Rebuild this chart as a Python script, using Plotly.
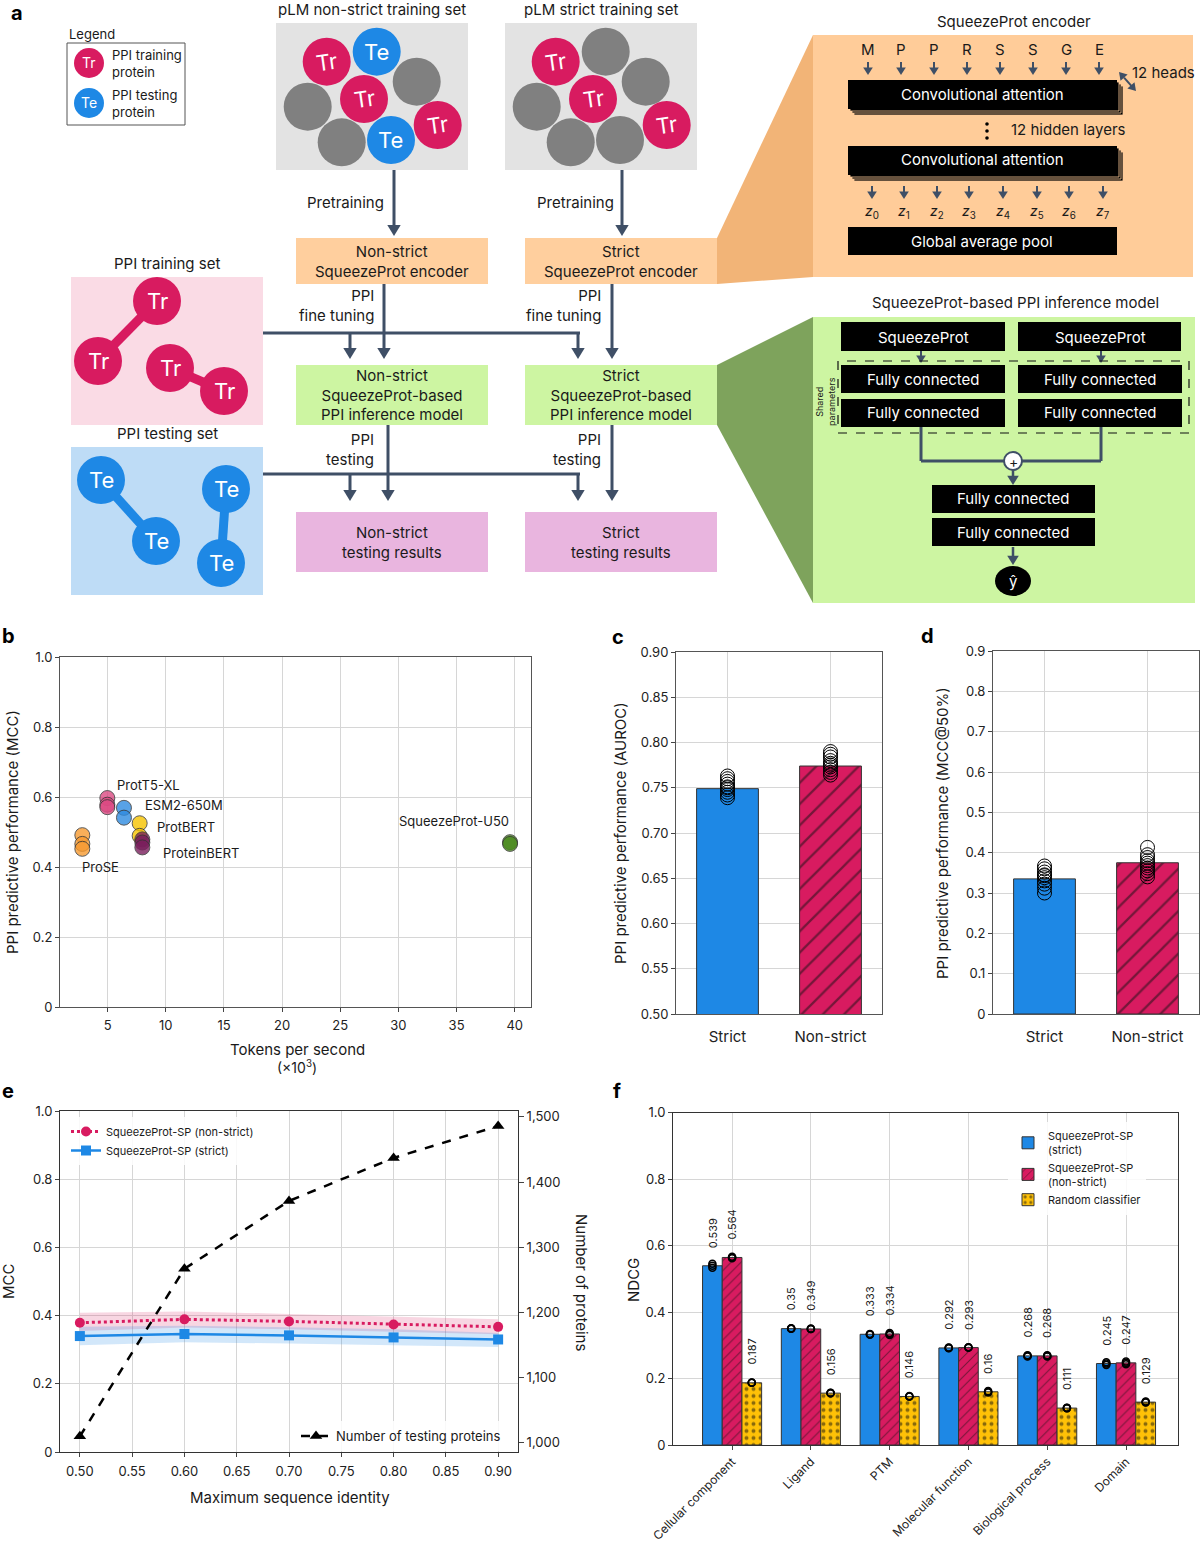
import math
import plotly.graph_objects as go

W, H = 1200, 1547
FONT = "Inter"
BLUE = "#1e88e5"
PINK = "#d81b60"
YELLOW = "#ffc107"
SLATE = "#3f4f66"
GRID = "#d6d6d6"

# ---------------- data ----------------
# panel b
b_models = ["ProtT5-XL", "ESM2-650M", "ProtBERT", "ProteinBERT", "ProSE", "SqueezeProt-U50"]
b_speed = [4.97, 6.4, 7.75, 7.98, 2.82, 39.6]          # tokens per second (x10^3)
b_mcc = [[0.597, 0.578, 0.571], [0.569, 0.541], [0.525, 0.489],
         [0.479, 0.470, 0.456], [0.491, 0.466, 0.452], [0.471, 0.466]]
b_xticks = [5, 10, 15, 20, 25, 30, 35, 40]
b_yticks = [0, 0.2, 0.4, 0.6, 0.8, 1.0]
b_yticklabels = ["0", "0.2", "0.4", "0.6", "0.8", "1.0"]

# panel c
c_cats = ["Strict", "Non-strict"]
c_mean = [0.749, 0.774]
c_reps_strict = [0.763, 0.760, 0.757, 0.754, 0.751, 0.748, 0.745, 0.742, 0.739, 0.750]
c_reps_nonstrict = [0.790, 0.787, 0.784, 0.780, 0.777, 0.773, 0.770, 0.767, 0.764, 0.775]

# panel d
d_cats = ["Strict", "Non-strict"]
d_mean = [0.335, 0.375]
d_reps_strict = [0.367, 0.360, 0.352, 0.345, 0.338, 0.330, 0.322, 0.312, 0.300, 0.343]
d_reps_nonstrict = [0.413, 0.395, 0.388, 0.380, 0.374, 0.368, 0.362, 0.355, 0.348, 0.340]
d_yticks = [0, 0.1, 0.2, 0.3, 0.4, 0.5, 0.6, 0.7, 0.8, 0.9]
d_yticklabels = ["0", "0.1", "0.2", "0.3", "0.4", "0.5", "0.6", "0.7", "0.8", "0.9"]

# panel e
e_identity = [0.5, 0.6, 0.7, 0.8, 0.9]
e_nonstrict = [0.379, 0.389, 0.383, 0.374, 0.367]
e_nonstrict_lo = [0.355, 0.365, 0.360, 0.352, 0.345]
e_nonstrict_hi = [0.408, 0.412, 0.405, 0.398, 0.389]
e_strict = [0.340, 0.346, 0.342, 0.336, 0.330]
e_strict_lo = [0.313, 0.322, 0.318, 0.312, 0.308]
e_strict_hi = [0.367, 0.370, 0.366, 0.360, 0.349]
e_n_proteins = [1010, 1267, 1371, 1437, 1486]
e_yticks = [0, 0.2, 0.4, 0.6, 0.8, 1.0]
e_yticklabels = ["0", "0.2", "0.4", "0.6", "0.8", "1.0"]

# panel f
f_cats = ["Cellular component", "Ligand", "PTM", "Molecular function", "Biological process", "Domain"]
f_strict = [0.539, 0.35, 0.333, 0.292, 0.268, 0.245]
f_nonstrict = [0.564, 0.349, 0.334, 0.293, 0.268, 0.247]
f_random = [0.187, 0.156, 0.146, 0.16, 0.111, 0.129]
f_strict_reps = [[0.533, 0.539, 0.545], [0.35, 0.35, 0.351], [0.332, 0.333, 0.334],
                 [0.291, 0.292, 0.293], [0.266, 0.268, 0.27], [0.241, 0.245, 0.249]]
f_nonstrict_reps = [[0.562, 0.564, 0.566], [0.349, 0.349, 0.35], [0.331, 0.334, 0.337],
                    [0.293, 0.293, 0.294], [0.266, 0.268, 0.27], [0.243, 0.247, 0.251]]
f_random_reps = [[0.187, 0.187, 0.188], [0.156, 0.156, 0.157], [0.146, 0.146, 0.147],
                 [0.158, 0.16, 0.162], [0.111, 0.111, 0.112], [0.128, 0.129, 0.131]]
f_yticks = [0, 0.2, 0.4, 0.6, 0.8, 1.0]
f_yticklabels = ["0", "0.2", "0.4", "0.6", "0.8", "1.0"]


# ---------------- helpers ----------------
def px_x(v):
    return v / W


def px_y(v):
    return 1 - v / H


shapes = []
annotations = []


def rect(x0, y0, x1, y1, fill, line_color=None, lw=0, dash=None):
    shapes.append(dict(type="rect", xref="paper", yref="paper",
                       x0=px_x(x0), x1=px_x(x1), y0=px_y(y1), y1=px_y(y0),
                       fillcolor=fill,
                       line=dict(color=line_color or fill, width=lw, dash=dash)))


def circle(cx, cy, rx, fill, ry=None, line_color=None, lw=0):
    ry = rx if ry is None else ry
    shapes.append(dict(type="circle", xref="paper", yref="paper",
                       x0=px_x(cx - rx), x1=px_x(cx + rx), y0=px_y(cy + ry), y1=px_y(cy - ry),
                       fillcolor=fill, line=dict(color=line_color or fill, width=lw)))


def line(x0, y0, x1, y1, color=SLATE, width=3, dash=None):
    shapes.append(dict(type="line", xref="paper", yref="paper",
                       x0=px_x(x0), x1=px_x(x1), y0=px_y(y0), y1=px_y(y1),
                       line=dict(color=color, width=width, dash=dash)))


def path(points, fill):
    d = "M " + " L ".join(f"{px_x(a)},{px_y(b)}" for a, b in points) + " Z"
    shapes.append(dict(type="path", xref="paper", yref="paper", path=d,
                       fillcolor=fill, line=dict(color=fill, width=0)))


def head(tx, ty, ux, uy, width, color):
    hl, hw = 3.3 * width + 1, 1.9 * width + 1
    bx, by = tx - ux * hl, ty - uy * hl
    path([(bx - uy * hw, by + ux * hw), (bx + uy * hw, by - ux * hw), (tx, ty)], color)
    return bx, by


def seg_arrow(x0, y0, x1, y1, width=3, color=SLATE, both=False):
    L = math.hypot(x1 - x0, y1 - y0)
    ux, uy = (x1 - x0) / L, (y1 - y0) / L
    ex, ey = head(x1, y1, ux, uy, width, color)
    sx, sy = x0, y0
    if both:
        sx, sy = head(x0, y0, -ux, -uy, width, color)
    line(sx, sy, ex + ux, ey + uy, color, width)


def arrow(xt, yt, length, width=3, color=SLATE):
    seg_arrow(xt, yt - length, xt, yt, width, color)


def text(x, y, s, size=15, color="#1a1a1a", xanchor="center", yanchor="middle",
         angle=0, align="center", bold=False):
    if bold:
        s = f"<b>{s}</b>"
    annotations.append(dict(x=px_x(x), y=px_y(y), xref="paper", yref="paper", text=s,
                            showarrow=False, xanchor=xanchor, yanchor=yanchor,
                            textangle=angle, align=align,
                            font=dict(size=size, color=color, family=FONT)))


# ---------------- panel a diagram ----------------
text(67, 34, "Legend", 13, xanchor="left")
rect(67, 43, 185, 125, "rgba(0,0,0,0)", "#555", 1)
circle(89, 63, 15, PINK)
text(89, 63, "Tr", 14, "white")
text(110, 64, "PPI training<br>protein", 13, xanchor="left", align="left")
circle(89, 103, 15, BLUE)
text(89, 103, "Te", 14, "white")
text(110, 104, "PPI testing<br>protein", 13, xanchor="left", align="left")

set_layout = [(326.7, 61.7, "Tr"), (376.7, 51.7, "Te"), (416.7, 81.7, None), (307.7, 106.7, None),
              (364, 99, "Tr"), (437.7, 125, "Tr"), (341.7, 142.3, None), (391, 140, "Te")]
for shift, title, keep_te in [(0, "pLM non-strict training set", True), (229, "pLM strict training set", False)]:
    rect(276 + shift, 23, 468 + shift, 170, "#e3e3e3")
    text(372 + shift, 10, title, 15)
    for cx, cy, lab in set_layout:
        if lab == "Te" and not keep_te:
            lab = None
        col = "#808080" if lab is None else (PINK if lab == "Tr" else BLUE)
        circle(cx + shift, cy, 24, col)
        if lab:
            text(cx + shift, cy, lab, 22, "white", angle=-8 if lab == "Tr" else 0)

arrow(394, 236, 66)
arrow(622, 236, 66)
text(345, 203, "Pretraining", 15)
text(575, 203, "Pretraining", 15)

ORANGE = "#ffcf9e"
rect(296, 238, 488, 284, ORANGE)
text(392, 261, "Non-strict<br>SqueezeProt encoder", 15)
rect(525, 238, 717, 284, ORANGE)
text(621, 261, "Strict<br>SqueezeProt encoder", 15)

text(167, 263, "PPI training set", 15)
rect(71, 277, 263, 425, "#fadbe5")
for (a, b), (c, d) in [((157, 301), (98, 361)), ((170, 368), (224, 391))]:
    line(a, b, c, d, PINK, 9)
for cx, cy in [(157, 301), (98, 361), (170, 368), (224, 391)]:
    circle(cx, cy, 24, PINK)
    text(cx, cy, "Tr", 22, "white")

text(167, 433, "PPI testing set", 15)
rect(71, 447, 263, 595, "#bedcf6")
for (a, b), (c, d) in [((101, 480), (156, 541)), ((226, 489), (221, 563))]:
    line(a, b, c, d, BLUE, 9)
for cx, cy in [(101, 480), (156, 541), (226, 489), (221, 563)]:
    circle(cx, cy, 24, BLUE)
    text(cx, cy, "Te", 22, "white")

line(263, 333, 580, 333)
arrow(350, 359, 26)
arrow(578, 359, 26)
arrow(384, 359, 75)
arrow(612, 359, 75)
text(376, 306, "PPI<br>fine tuning", 15, xanchor="right", align="right")
text(603, 306, "PPI<br>fine tuning", 15, xanchor="right", align="right")

GREEN = "#cdf5a2"
rect(296, 365, 488, 425, GREEN)
text(392, 395, "Non-strict<br>SqueezeProt-based<br>PPI inference model", 15)
rect(525, 365, 717, 425, GREEN)
text(621, 395, "Strict<br>SqueezeProt-based<br>PPI inference model", 15)

line(263, 474, 580, 474)
arrow(350, 501, 27)
arrow(578, 501, 27)
arrow(388, 501, 76)
arrow(612, 501, 76)
text(376, 449, "PPI<br>testing", 15, xanchor="right", align="right")
text(603, 449, "PPI<br>testing", 15, xanchor="right", align="right")

LILAC = "#e9b5df"
rect(296, 512, 488, 572, LILAC)
text(392, 542, "Non-strict<br>testing results", 15)
rect(525, 512, 717, 572, LILAC)
text(621, 542, "Strict<br>testing results", 15)

path([(717, 238), (813, 35), (813, 277), (717, 284)], "#f2b477")
rect(813, 35, 1193, 277, "#ffcc99")
text(1014, 22, "SqueezeProt encoder", 15)
letters_x = [868, 901, 934, 967, 1000, 1033, 1066, 1099]
for lx, ch in zip(letters_x, "MPPRSSGE"):
    text(lx, 50, ch, 15)
    arrow(lx, 75, 13, width=2)
for y0 in (80, 146):
    for off in (6, 4, 2):
        rect(848 + off, y0 + off, 1117 + off, y0 + 29 + off, "black", "#ffcc99", 0.8)
    rect(848, y0, 1117, y0 + 29, "black")
text(982, 94, "Convolutional attention", 15, "white")
text(982, 160, "Convolutional attention", 15, "white")
seg_arrow(1119, 72, 1136, 91, width=2, both=True)
text(1163, 72, "12 heads", 15)
for dy in (124, 131, 138):
    circle(987, dy, 1.8, "black")
text(1068, 129, "12 hidden layers", 15)
z_x = [872, 904, 937, 969, 1003, 1037, 1069, 1103]
for i, zx in enumerate(z_x):
    arrow(zx, 199, 13, width=2)
    text(zx, 212, f"<i>z</i><sub>{i}</sub>", 14)
rect(848, 227, 1117, 255, "black")
text(982, 241, "Global average pool", 15, "white")

path([(717, 365), (813, 317), (813, 603), (717, 425)], "#7ea35c")
rect(813, 317, 1195, 603, "#cdf5a2")
text(1015, 303, "SqueezeProt-based PPI inference model", 15)
rect(841, 322, 1005, 351, "black")
text(923, 337, "SqueezeProt", 15, "white")
rect(1018, 322, 1181, 351, "black")
text(1100, 337, "SqueezeProt", 15, "white")
arrow(921, 363, 12, width=2)
arrow(1101, 363, 12, width=2)
rect(838, 361, 1189, 433, "rgba(0,0,0,0)", "#111", 1.2, "dash")
for bx0, bx1 in [(841, 1005), (1018, 1182)]:
    for by0 in (365, 399):
        rect(bx0, by0, bx1, by0 + 28, "black")
        text((bx0 + bx1) / 2, by0 + 14, "Fully connected", 15, "white")
text(826, 402, "Shared<br>parameters", 9, angle=-90)
line(921, 427, 921, 461, SLATE, 3)
line(921, 461, 1004, 461, SLATE, 3)
line(1101, 427, 1101, 461, SLATE, 3)
line(1101, 461, 1022, 461, SLATE, 3)
circle(1013, 461, 9, "white", line_color=SLATE, lw=2)
text(1013, 461, "+", 14)
arrow(1013, 485, 15, width=2.5)
for by0 in (485, 518):
    rect(932, by0, 1095, by0 + 28, "black")
    text(1013, by0 + 14, "Fully connected", 15, "white")
arrow(1013, 565, 18, width=2.5)
circle(1013, 581, 18, "black", ry=15)
text(1013, 581, "ŷ", 15, "white")

for lx, ly, l in [(17, 13, "a"), (8, 636, "b"), (618, 637, "c"), (927, 636, "d"), (8, 1091, "e"), (617, 1091, "f")]:
    text(lx, ly, l, 20, "black", bold=True)

# ---------------- figure traces ----------------
fig = go.Figure()

b_colors = ["#dc4a83", "#2f8be0", "#f7c400", "#7a1f5c", "#f79a30", "#4b8a1e"]
for name, sp, vals, col in zip(b_models, b_speed, b_mcc, b_colors):
    fig.add_trace(go.Scatter(x=[sp] * len(vals), y=vals, mode="markers", xaxis="x", yaxis="y",
                             marker=dict(size=15, color=col, opacity=0.8,
                                         line=dict(color="#333", width=1)),
                             showlegend=False, name=name))
b_label_pos = [(5.6, 0.633), (8.0, 0.577), (9.1, 0.514), (9.6, 0.44), (2.6, 0.40), (29.9, 0.531)]
for name, (lx, ly) in zip(b_models, b_label_pos):
    annotations.append(dict(x=lx, y=ly, xref="x", yref="y", text=name, showarrow=False,
                            xanchor="left", yanchor="middle",
                            font=dict(size=13, color="#1a1a1a", family=FONT)))

for xa, ya, cats, means, reps_list in [("x2", "y2", c_cats, c_mean, [c_reps_strict, c_reps_nonstrict]),
                                       ("x3", "y3", d_cats, d_mean, [d_reps_strict, d_reps_nonstrict])]:
    for cat, m, col, pat in zip(cats, means, [BLUE, PINK], ["", "/"]):
        fig.add_trace(go.Bar(x=[cat], y=[m], xaxis=xa, yaxis=ya, width=0.6, showlegend=False,
                             marker=dict(color=col, line=dict(color="#333", width=1),
                                         pattern=dict(shape=pat, fgcolor="#111", bgcolor=col, size=15,
                                                      solidity=0.15, fillmode="overlay"))))
    for cat, reps in zip(cats, reps_list):
        fig.add_trace(go.Scatter(x=[cat] * len(reps), y=reps, mode="markers", xaxis=xa, yaxis=ya,
                                 marker=dict(size=14, color="rgba(0,0,0,0)",
                                             line=dict(color="black", width=1)),
                                 showlegend=False))

for lo, hi, fill in [(e_nonstrict_lo, e_nonstrict_hi, "rgba(216,27,96,0.18)"),
                     (e_strict_lo, e_strict_hi, "rgba(30,136,229,0.2)")]:
    fig.add_trace(go.Scatter(x=e_identity, y=hi, mode="lines", line=dict(width=0),
                             xaxis="x4", yaxis="y4", showlegend=False, hoverinfo="skip"))
    fig.add_trace(go.Scatter(x=e_identity, y=lo, mode="lines", line=dict(width=0),
                             fill="tonexty", fillcolor=fill,
                             xaxis="x4", yaxis="y4", showlegend=False, hoverinfo="skip"))
fig.add_trace(go.Scatter(x=e_identity, y=e_n_proteins, mode="lines+markers", xaxis="x4", yaxis="y6",
                         line=dict(color="black", width=2.5, dash="dash"),
                         marker=dict(symbol="triangle-up", size=11, color="black"),
                         name="Number of testing proteins", legend="legend2"))
fig.add_trace(go.Scatter(x=e_identity, y=e_nonstrict, mode="lines+markers", xaxis="x4", yaxis="y4",
                         line=dict(color=PINK, width=3, dash="dot"),
                         marker=dict(symbol="circle", size=10, color=PINK),
                         name="SqueezeProt-SP (non-strict)", legend="legend"))
fig.add_trace(go.Scatter(x=e_identity, y=e_strict, mode="lines+markers", xaxis="x4", yaxis="y4",
                         line=dict(color=BLUE, width=2.5),
                         marker=dict(symbol="square", size=10, color=BLUE),
                         name="SqueezeProt-SP (strict)", legend="legend"))

f_idx = list(range(len(f_cats)))
bar_w = 0.25
f_series = [
    ("SqueezeProt-SP<br>(strict)", f_strict, f_strict_reps, BLUE, "", -1),
    ("SqueezeProt-SP<br>(non-strict)", f_nonstrict, f_nonstrict_reps, PINK, "/", 0),
    ("Random classifier", f_random, f_random_reps, YELLOW, ".", 1),
]
for name, vals, reps, col, pat, k in f_series:
    fig.add_trace(go.Bar(x=f_idx, y=vals, xaxis="x5", yaxis="y5", width=bar_w,
                         offset=k * bar_w - bar_w / 2, name=name, legend="legend3",
                         marker=dict(color=col, line=dict(color="#333", width=1),
                                     pattern=dict(shape=pat, fgcolor="#111", bgcolor=col, size=7,
                                                  solidity=0.25 if pat == "." else 0.15,
                                                  fillmode="overlay"))))
    rx, ry = [], []
    for i, r in zip(f_idx, reps):
        rx += [i + k * bar_w] * len(r)
        ry += r
    fig.add_trace(go.Scatter(x=rx, y=ry, mode="markers", xaxis="x5", yaxis="y5", showlegend=False,
                             marker=dict(size=7, color="rgba(0,0,0,0)", line=dict(color="black", width=1.6))))
    for i, v in zip(f_idx, vals):
        annotations.append(dict(x=i + k * bar_w, y=v, xref="x5", yref="y5", text=f"{v:g}",
                                showarrow=False, textangle=-90, yanchor="bottom", xanchor="center",
                                yshift=16, font=dict(size=11, color="#1a1a1a", family=FONT)))

text(12, 832, "PPI predictive performance (MCC)", 15, angle=-90)
text(297, 1049, "Tokens per second", 15)
text(297, 1067, "(×10<sup>3</sup>)", 14)
text(620, 833, "PPI predictive performance (AUROC)", 15, angle=-90)
text(942, 833, "PPI predictive performance (MCC@50%)", 15, angle=-90)
text(8, 1281, "MCC", 15, angle=-90)
text(582, 1282, "Number of proteins", 15, angle=90)
text(290, 1497, "Maximum sequence identity", 15)
text(633, 1280, "NDCG", 15, angle=-90)

# ---------------- layout ----------------
tickfont = dict(size=13, color="#222", family=FONT)
common = dict(showline=True, mirror=True, linecolor="#555", linewidth=1, gridcolor=GRID,
              tickfont=tickfont, zeroline=False, automargin=False)

fig.update_layout(
    width=W, height=H, autosize=False, margin=dict(l=0, r=0, t=0, b=0, pad=0, autoexpand=False),
    paper_bgcolor="white", plot_bgcolor="white",
    font=dict(family=FONT, color="#1a1a1a"),
    shapes=shapes, annotations=annotations,
    barmode="overlay",
    xaxis=dict(domain=[px_x(60), px_x(531)], anchor="y", range=[0.9, 41.4],
               tickvals=b_xticks, showgrid=True, ticks="outside", ticklen=4,
               ticklabelstandoff=2, **common),
    yaxis=dict(domain=[px_y(1007), px_y(657)], anchor="x", range=[0, 1.0],
               tickvals=b_yticks, ticktext=b_yticklabels, showgrid=True, ticks="outside", ticklen=4, **common),
    xaxis2=dict(domain=[px_x(676), px_x(882)], anchor="y2", type="category", range=[-0.5, 1.5],
                showgrid=True, ticklabelstandoff=9,
                **{**common, "tickfont": dict(size=15, color="#222", family=FONT)}),
    yaxis2=dict(domain=[px_y(1014), px_y(652)], anchor="x2", range=[0.5, 0.9], dtick=0.05,
                tickformat=".2f", showgrid=True, ticks="outside", ticklen=4, **common),
    xaxis3=dict(domain=[px_x(993), px_x(1199)], anchor="y3", type="category", range=[-0.5, 1.5],
                showgrid=True, ticklabelstandoff=9,
                **{**common, "tickfont": dict(size=15, color="#222", family=FONT)}),
    yaxis3=dict(domain=[px_y(1014), px_y(651)], anchor="x3", range=[0, 0.9],
                tickvals=d_yticks, ticktext=d_yticklabels, showgrid=True, ticks="outside", ticklen=4, **common),
    xaxis4=dict(domain=[px_x(60), px_x(518)], anchor="y4", range=[0.481, 0.919], dtick=0.05,
                tickformat=".2f", showgrid=True, ticks="outside", ticklen=4, ticklabelstandoff=3,
                **{**common, "linecolor": "#333"}),
    yaxis4=dict(domain=[px_y(1452), px_y(1111)], anchor="x4", range=[0, 1.0],
                tickvals=e_yticks, ticktext=e_yticklabels, showgrid=True, ticks="outside", ticklen=4,
                **{**common, "linecolor": "#333"}),
    yaxis6=dict(anchor="x4", overlaying="y4", side="right", range=[986, 1509],
                tickvals=[1000, 1100, 1200, 1300, 1400, 1500], tickformat=",d",
                showgrid=False, ticks="outside", ticklen=5, showline=True, linecolor="#333",
                tickfont=tickfont, zeroline=False, automargin=False),
    xaxis5=dict(domain=[px_x(673), px_x(1178)], anchor="y5", range=[-0.75, 5.66],
                tickvals=f_idx, ticktext=f_cats, tickangle=-45, showgrid=True,
                ticks="outside", ticklen=4,
                **{**common, "linecolor": "#333", "tickfont": dict(size=12, color="#222", family=FONT)}),
    yaxis5=dict(domain=[px_y(1445), px_y(1112.5)], anchor="x5", range=[0, 1.0],
                tickvals=f_yticks, ticktext=f_yticklabels, showgrid=True, ticks="outside", ticklen=4,
                **{**common, "linecolor": "#333"}),
    legend=dict(x=px_x(66), y=px_y(1117), xanchor="left", yanchor="top", traceorder="normal",
                bgcolor="rgba(255,255,255,0.85)", font=dict(size=11, family=FONT),
                tracegroupgap=0, itemwidth=30),
    legend2=dict(x=px_x(296), y=px_y(1421), xanchor="left", yanchor="top", traceorder="normal",
                 bgcolor="rgba(255,255,255,0.85)", font=dict(size=13, family=FONT), itemwidth=30),
    legend3=dict(x=px_x(1008), y=px_y(1122), xanchor="left", yanchor="top", traceorder="normal",
                 bgcolor="rgba(255,255,255,0.85)", font=dict(size=11, family=FONT),
                 itemwidth=30, tracegroupgap=4),
)

fig.write_html("out.html", config={"displayModeBar": False},
               post_script="document.body.style.margin='0px';document.body.style.overflow='hidden';")
